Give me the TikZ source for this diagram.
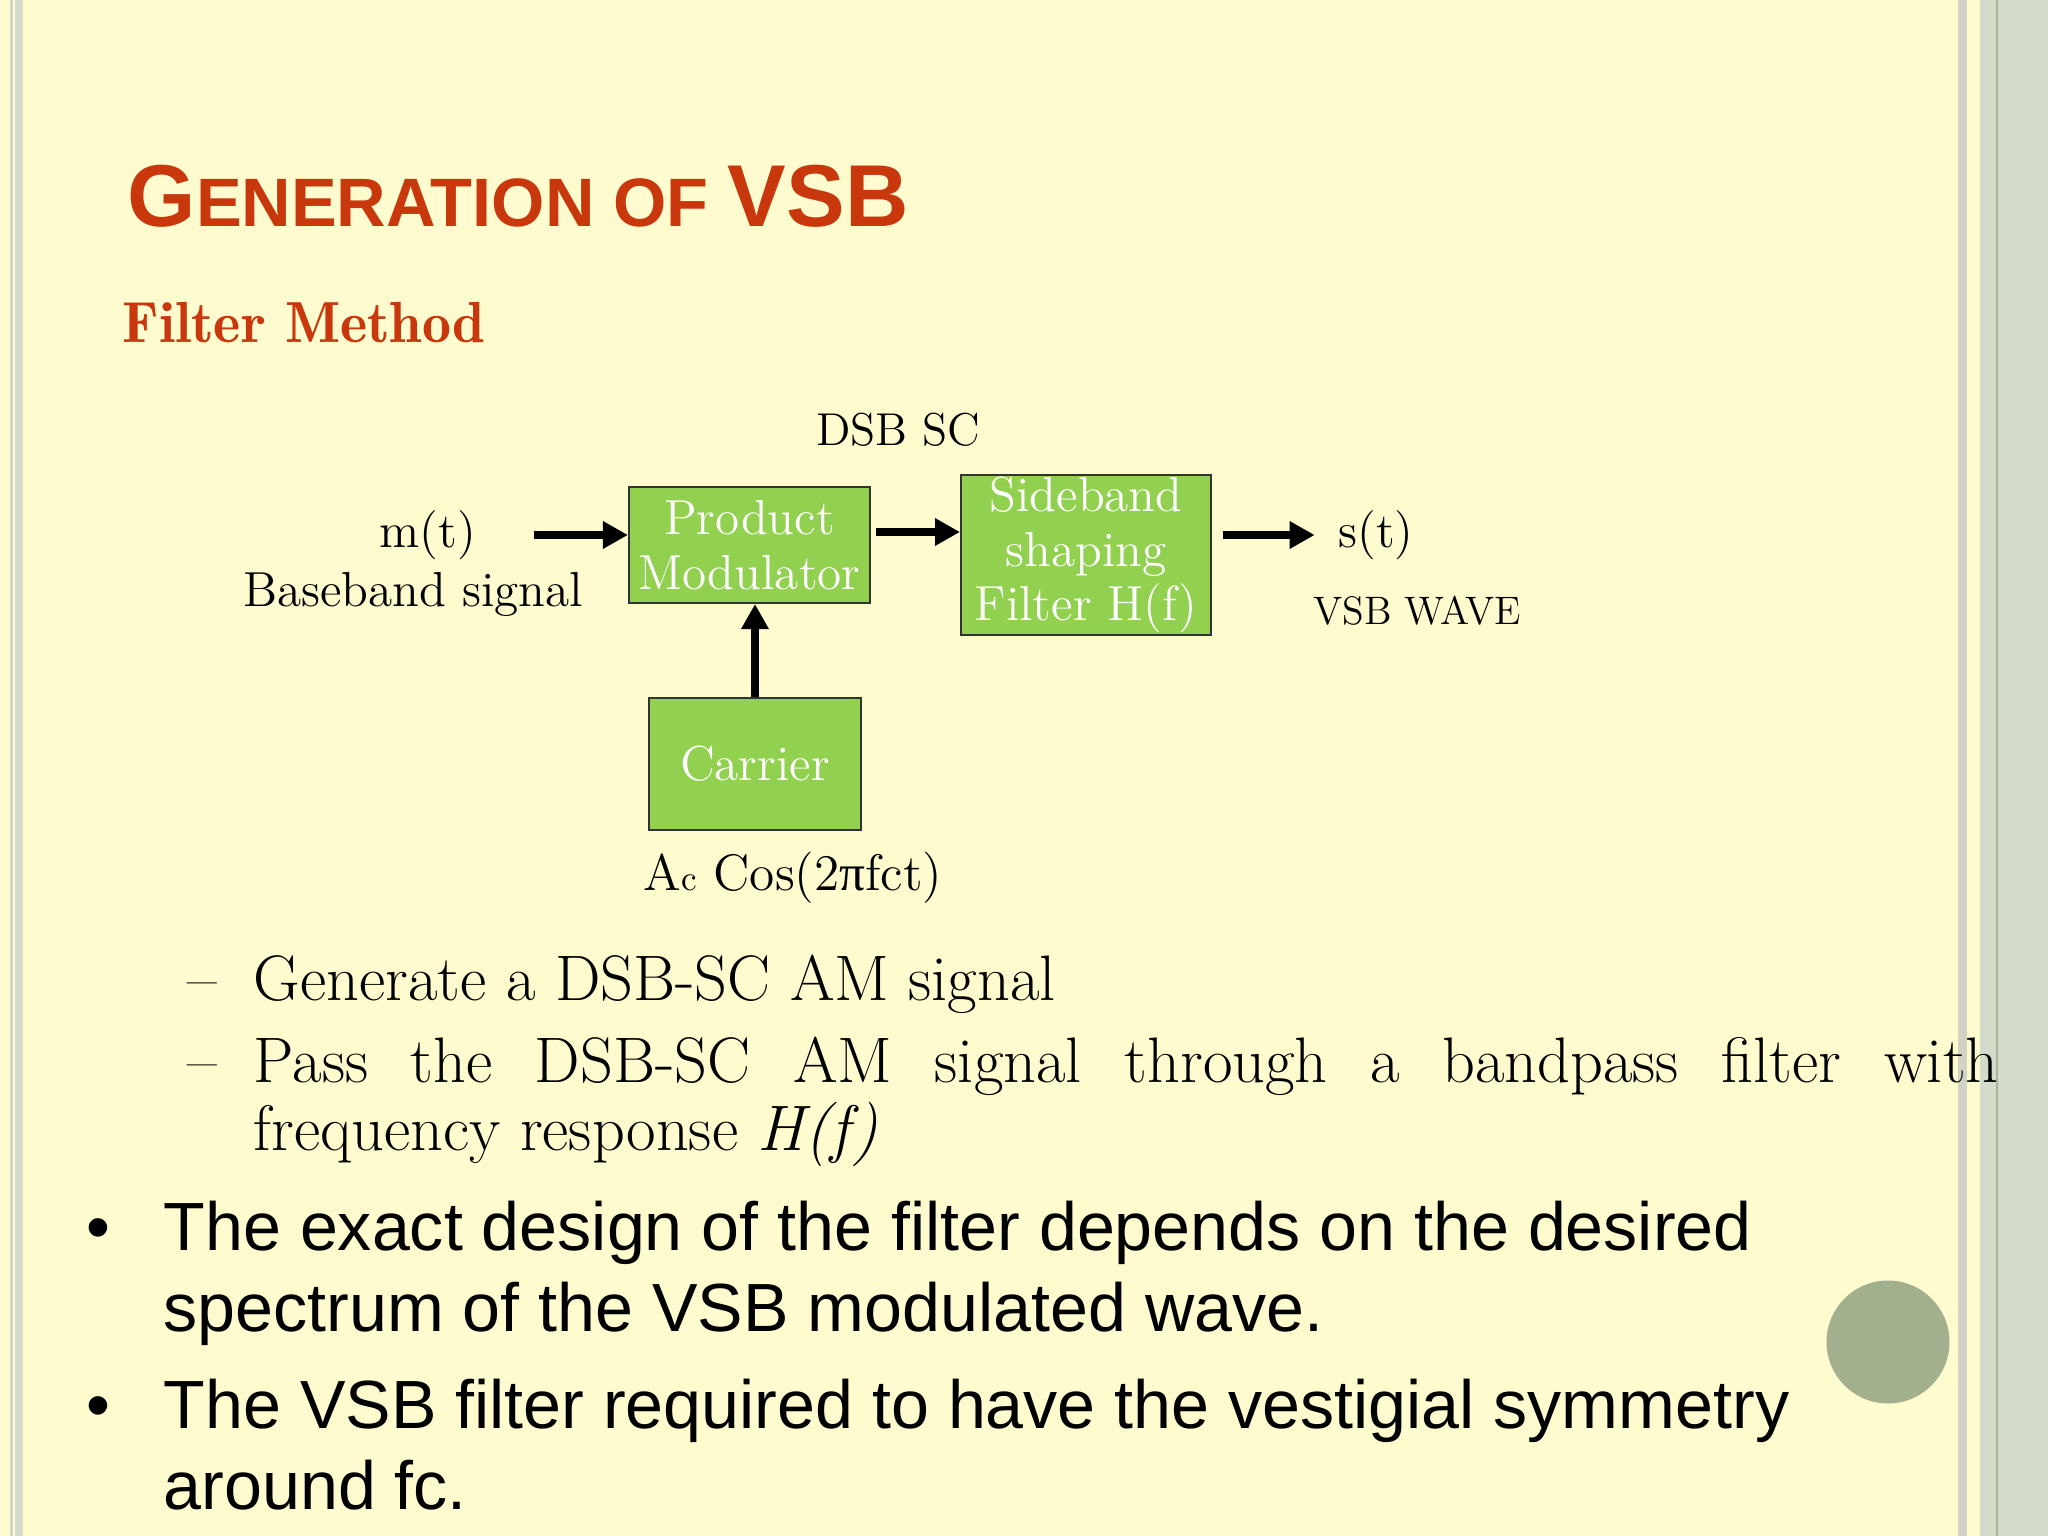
\documentclass[tikz,border=0pt]{standalone}
\usepackage{fontspec}
\usepackage{tikz}
\usetikzlibrary{arrows.meta, positioning}
\newfontfamily\slidesans{Liberation Sans}
\newfontfamily\slidedemi{lmromandemi10-regular.otf}
\newfontfamily\slidepi{Liberation Serif}
\definecolor{slidebg}{HTML}{FEFBCF}
\definecolor{titlered}{HTML}{C8380C}
\definecolor{boxgreen}{HTML}{92D050}
\definecolor{stripegray}{HTML}{D2D3C4}
\definecolor{stripegreen}{HTML}{D3DCCA}
\definecolor{stripedark}{HTML}{A8B39A}
\definecolor{dotgreen}{HTML}{A3B08E}
\newcommand{\fsz}[2]{\fontsize{#1}{#2}\selectfont}

\begin{document}
\begin{tikzpicture}[
    every node/.style={inner sep=0pt},
    block/.style={rectangle, draw=black!80, line width=0.6pt, fill=boxgreen,
                  text=white, align=center, font=\fsz{14}{15.5}},
    sig/.style={-{Triangle[length=0.25cm, width=0.26cm]}, line width=0.075cm},
    lbl/.style={font=\fsz{14}{15.5}},
    bullet/.style={anchor=base west, font=\fsz{18.3}{21}},
    point/.style={anchor=base west, font=\slidesans\fsz{19.4}{22.8}}
]
\useasboundingbox (0,0) rectangle (20.48,-15.36);

% slide background and side stripes
\fill[slidebg] (0,0) rectangle (20.48,-15.36);
\fill[stripegray] (0.10,0) rectangle (0.13,-15.36);
\fill[stripegreen] (0.15,0) rectangle (0.23,-15.36);
\fill[stripegray] (19.58,0) rectangle (19.67,-15.36);
\fill[stripegreen] (19.80,0) rectangle (20.48,-15.36);
\draw[stripedark, line width=0.02cm] (19.97,0) -- (19.97,-15.36);
\fill[dotgreen] (18.88,-13.42) circle (0.615);

% headings
\node[anchor=base west, text=titlered] (title) at (1.27,-2.27)
    {\slidesans\bfseries\fsz{25}{30}G\fsz{19.5}{24}ENERATION OF \fsz{25}{30}VSB};
\node[anchor=base west, text=titlered] (method) at (1.22,-3.43)
    {\slidedemi\fsz{16.5}{20}Filter Method};

% block diagram
\node[block, minimum width=2.41cm, minimum height=1.16cm] (PM) at (7.495,-5.45)
    {Product\\Modulator};
\node[block, minimum width=2.50cm, minimum height=1.60cm,
      right=0.89cm of PM, yshift=-0.10cm] (SB)
    {Sideband\\shaping\\Filter H(f)};
\node[block, minimum width=2.12cm, minimum height=1.32cm,
      below=0.93cm of PM, xshift=0.055cm] (C) {Carrier};

\node[lbl] (mt) at (4.28,-5.35) {m(t)};
\node[lbl] (base) at (4.13,-5.94) {Baseband signal};
\node[lbl] (st) at (13.76,-5.35) {s(t)};
\node[font=\fsz{13.1}{15}] (dsb) at (8.98,-4.30) {DSB SC};
\node[font=\fsz{11.3}{13}] (vsb) at (14.17,-6.11) {VSB WAVE};
\node[font=\fsz{14.6}{16}] (carr) at (7.93,-8.78)
    {A{\fsz{10}{11}c} Cos(2{\slidepi π}fct)};

\draw[sig, shorten <=0.57cm] (mt.east) -- (mt.east -| PM.west);
\draw[sig, shorten <=0.05cm] ([yshift=0.13cm]PM.east)
    -- ([yshift=0.13cm]PM.east -| SB.west);
\draw[sig] (C.north) -- (C.north |- PM.south);
\draw[sig, shorten <=0.11cm, shorten >=0.23cm] (SB.east |- st) -- (st.west);

% sub points
\node[bullet, anchor=base] (d1) at (2.02,-10.00) {--};
\node[bullet] (b1) at (2.53,-10.00) {Generate a DSB-SC AM signal};
\node[bullet, anchor=base] (d2) at (2.02,-10.82) {--};
\node[bullet] (b2) at (2.53,-10.82)
    {\makebox[17.45cm][s]{Pass the DSB-SC AM signal through a bandpass filter with}};
\node[bullet] (b2b) at (2.53,-11.50) {frequency response \textit{H(f)}};

% main points
\node[point, anchor=base] (p1) at (0.98,-12.50) {•};
\node[point] (t1a) at (1.63,-12.50)
    {The exact design of the filter depends on the desired};
\node[point] (t1b) at (1.63,-13.31) {spectrum of the VSB modulated wave.};
\node[point, anchor=base] (p2) at (0.98,-14.28) {•};
\node[point] (t2a) at (1.63,-14.28)
    {The VSB filter required to have the vestigial symmetry};
\node[point] (t2b) at (1.63,-15.09) {around fc.};
\end{tikzpicture}
\end{document}
